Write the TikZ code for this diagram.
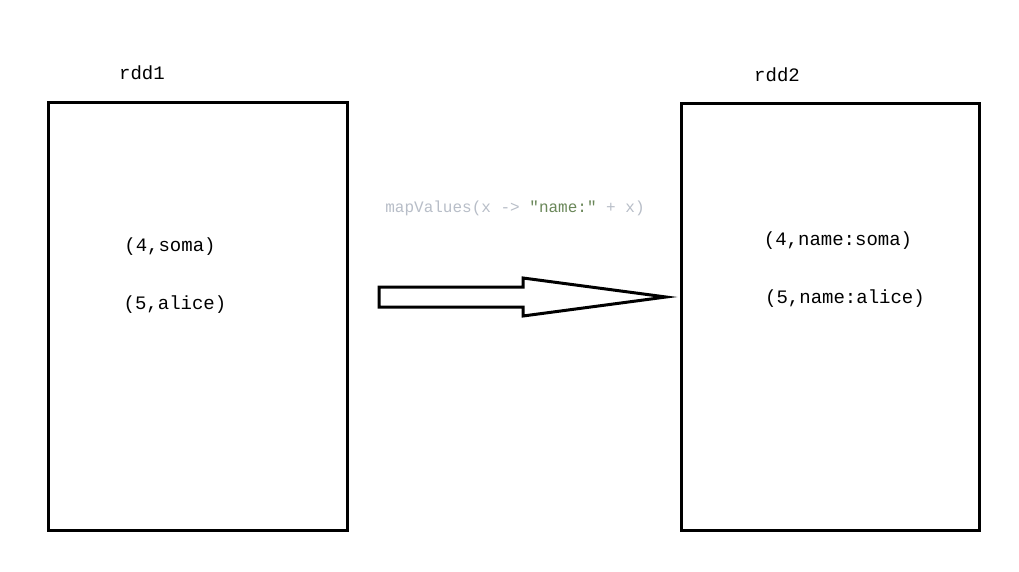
\documentclass[tikz,border=0pt]{standalone}
\usepackage{fontspec}
\setmonofont{Liberation Mono}
\definecolor{lg}{HTML}{B8BEC8}
\definecolor{gn}{HTML}{6A8759}
\begin{document}
\begin{tikzpicture}[x=1pt,y=-1pt,
  box/.style={draw,line width=3pt},
  lbl/.style={font=\ttfamily\fontsize{19}{21}\selectfont}]
\useasboundingbox[fill=white] (0,0) rectangle (1019,572);
\draw[box] (48,103) rectangle (347,530);
\draw[box] (681,104) rectangle (979,530);
\node[lbl] (r1) at (142,73) {rdd1};
\node[lbl] (r2) at (777,75) {rdd2};
\node[lbl] (a1) at (170,247) {(4,soma)};
\node[lbl] (a2) at (175,305) {(5,alice)};
\node[lbl] (b1) at (838,241) {(4,name:soma)};
\node[lbl] (b2) at (845,299) {(5,name:alice)};
\node[lbl,text=lg,font=\ttfamily\fontsize{16}{18}\selectfont] (m) at (515,208) {mapValues(x -> \textcolor{gn}{"name:"} + x)};
\draw[line width=3pt,line join=miter] (379,287) -- (523,287) -- (523,278) -- (666,297) -- (523,316) -- (523,307) -- (379,307) -- cycle;
\end{tikzpicture}
\end{document}
